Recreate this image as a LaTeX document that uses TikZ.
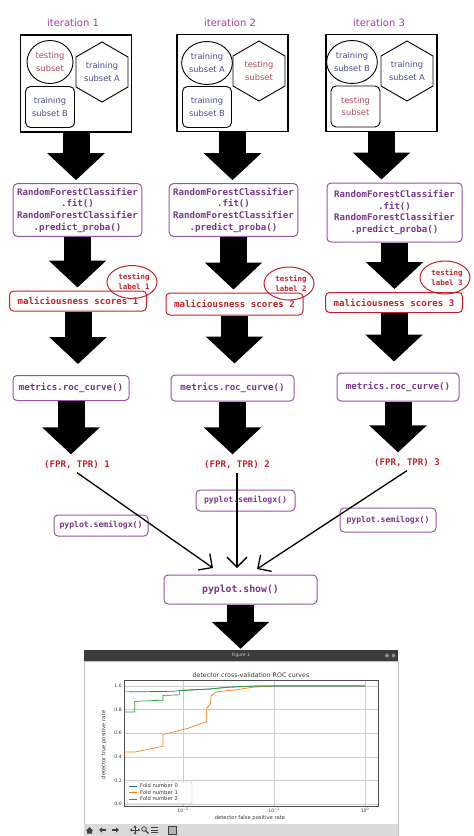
\documentclass[tikz,border=0pt]{standalone}
\usepackage{fontspec}
\setmainfont{DejaVu Sans}
\newfontfamily\codefont{DejaVu Sans Mono}
\usepackage{xcolor}
\usetikzlibrary{arrows.meta,shapes.geometric}
\definecolor{itercolor}{RGB}{160,64,165}
\definecolor{testcolor}{RGB}{180,70,90}
\definecolor{traincolor}{RGB}{75,75,150}
\definecolor{codecolor}{RGB}{120,55,140}
\definecolor{boxcolor}{RGB}{150,85,165}
\definecolor{scorecolor}{RGB}{195,35,40}
\definecolor{barcolor}{RGB}{60,59,55}
\definecolor{gridgray}{RGB}{205,205,205}
\definecolor{foldzero}{HTML}{1F77B4}
\definecolor{foldone}{HTML}{FF7F0E}
\definecolor{foldtwo}{HTML}{2CA02C}

\begin{document}
\begin{tikzpicture}[x=1pt, y=-1pt,
  itertitle/.style={text=itercolor, font=\fontsize{10}{12}\selectfont},
  iterbox/.style={draw, line width=1.4pt, minimum width=111pt, minimum height=97pt, inner sep=0pt},
  subsetcircle/.style={draw, ellipse, line width=0.9pt, minimum width=46pt, minimum height=43pt, inner sep=0pt, align=center, font=\fontsize{8.3}{12.5}\selectfont},
  subsethex/.style={draw, regular polygon, regular polygon sides=6, shape border rotate=30, line width=0.9pt, minimum size=60pt, inner sep=0pt, align=center, font=\fontsize{8.3}{12.5}\selectfont},
  subsetbox/.style={draw, rounded corners=5pt, line width=0.9pt, minimum width=49pt, minimum height=41pt, inner sep=0pt, align=center, font=\fontsize{8.3}{12.5}\selectfont},
  testing/.style={text=testcolor},
  training/.style={text=traincolor},
  codebox/.style={draw=boxcolor, line width=1pt, rounded corners=4pt, fill=white, text=codecolor, align=center, inner xsep=4pt, inner ysep=4pt, font=\codefont\bfseries\fontsize{9.1}{11.7}\selectfont},
  smallcode/.style={font=\codefont\bfseries\fontsize{8.1}{10}\selectfont},
  scorebox/.style={draw=scorecolor, line width=1pt, rounded corners=4pt, text=scorecolor, minimum width=137pt, minimum height=20pt, inner sep=0pt, font=\codefont\bfseries\fontsize{9.1}{11.7}\selectfont},
  labelellipse/.style={draw=scorecolor, ellipse, line width=1pt, text=scorecolor, align=right, minimum width=50pt, minimum height=33pt, inner sep=0pt, font=\codefont\bfseries\fontsize{7.4}{10}\selectfont},
  fprlabel/.style={text=scorecolor, font=\codefont\bfseries\fontsize{9.1}{11.7}\selectfont},
  bigarrow/.style={line width=27pt, -{Triangle[length=27pt,width=56pt]}, shorten >=3pt},
  thinarrow/.style={line width=1.3pt, -{Straight Barb[length=10pt,width=20pt]}},
  ticklabel/.style={text=black!80, inner sep=1pt, font=\fontsize{4.6}{5}\selectfont},
  axislabel/.style={text=black!80, inner sep=0pt, font=\fontsize{5.2}{6}\selectfont}]
  \useasboundingbox[fill=white] (0,0) rectangle (474,836);
  \node[itertitle] (t1) at (73,23) {iteration 1};
  \node[itertitle] (t2) at (230,23) {iteration 2};
  \node[itertitle] (t3) at (379,23) {iteration 3};
  \node[iterbox] (it1) at (76,83.5) {};
  \node[iterbox] (it2) at (232.5,83) {};
  \node[iterbox] (it3) at (381.5,83) {};
  \node[subsetcircle, testing] (c1) at (50,62) {testing\\subset};
  \node[subsethex, training] (h1) at (102,72) {training\\subset A};
  \node[subsetbox, training] (b1) at (50,107) {training\\subset B};
  \node[subsetcircle, training] (c2) at (207,63) {training\\subset A};
  \node[subsethex, testing] (h2) at (259,71) {testing\\subset};
  \node[subsetbox, training] (b2) at (207,107) {training\\subset B};
  \node[subsetcircle, training] (c3) at (352,62) {training\\subset B};
  \node[subsethex, training] (h3) at (407,71) {training\\subset A};
  \node[subsetbox, testing] (b3) at (355.5,106.5) {testing\\subset};
  \node[codebox] (rf1) at (77.5,210) {RandomForestClassifier\\.fit()\\RandomForestClassifier\\.predict\_proba()};
  \node[codebox] (rf2) at (233.5,210) {RandomForestClassifier\\.fit()\\RandomForestClassifier\\.predict\_proba()};
  \node[codebox, minimum width=135pt, minimum height=59pt] (rf3) at (394.5,212.5) {RandomForestClassifier\\.fit()\\RandomForestClassifier\\.predict\_proba()};
  \node[scorebox] (m1) at (78,301) {maliciousness scores 1};
  \node[scorebox, minimum height=22pt] (m2) at (234.5,304) {maliciousness scores 2};
  \node[scorebox] (m3) at (394,302.5) {maliciousness scores 3};
  \node[labelellipse] (l1) at (132,282) {testing\\\hspace*{4pt}label 1};
  \node[labelellipse] (l2) at (289,283.5) {testing\\\hspace*{4pt}label 2};
  \node[labelellipse] (l3) at (445,277.5) {testing\\\hspace*{4pt}label 3};
  \node[codebox, minimum width=116pt, minimum height=25pt] (r1) at (71,388) {metrics.roc\_curve()};
  \node[codebox, minimum width=123pt, minimum height=26pt] (r2) at (232.5,388) {metrics.roc\_curve()};
  \node[codebox, minimum width=122pt, minimum height=28pt] (r3) at (398,387) {metrics.roc\_curve()};
  \node[fprlabel] (f1) at (77,465) {(FPR, TPR) 1};
  \node[fprlabel] (f2) at (237,465) {(FPR, TPR) 2};
  \node[fprlabel] (f3) at (407,463) {(FPR, TPR) 3};
  \node[codebox, smallcode, minimum width=94pt, minimum height=21pt] (s1) at (101,525.5) {pyplot.semilogx()};
  \node[codebox, smallcode, minimum width=99pt, minimum height=21pt] (s2) at (245.5,500.5) {pyplot.semilogx()};
  \node[codebox, smallcode, minimum width=96pt, minimum height=24pt] (s3) at (388,520) {pyplot.semilogx()};
  \node[codebox, minimum width=153pt, minimum height=29pt, font=\codefont\bfseries\fontsize{9.8}{12}\selectfont] (show) at (240.5,589.5) {pyplot.show()};
  \node[fill=barcolor, minimum width=314pt, minimum height=11pt, inner sep=0pt, text=black!20, font=\fontsize{4.5}{5}\selectfont] (bar) at (241,655.5) {Figure 1};
  \coordinate (in1) at (213,568);
  \coordinate (in2) at (237,568);
  \coordinate (in3) at (257,569);
  \draw[bigarrow] (it1.south) -- (it1.south |- rf1.north);
  \draw[bigarrow] (it2.south) -- (it2.south |- rf2.north);
  \draw[bigarrow] (it3.south) -- (it3.south |- rf3.north);
  \draw[bigarrow] (rf1.south) -- (rf1.south |- m1.north);
  \draw[bigarrow] (rf2.south) -- (rf2.south |- m2.north);
  \draw[bigarrow] (rf3.south) -- (rf3.south |- m3.north);
  \draw[bigarrow, shorten >=11pt] (m1.south) -- (m1.south |- r1.north);
  \draw[bigarrow, shorten >=11pt] (m2.south) -- (m2.south |- r2.north);
  \draw[bigarrow, shorten >=11pt] (m3.south) -- (m3.south |- r3.north);
  \draw[bigarrow] (r1.south) -- (r1.south |- f1.north);
  \draw[bigarrow] (r2.south) -- (r2.south |- f2.north);
  \draw[bigarrow] (r3.south) -- (r3.south |- f3.north);
  \draw[thinarrow] (f1.south) -- (in1);
  \draw[thinarrow] (f2.south) -- (in2);
  \draw[thinarrow] (f3.south) -- (in3);
  \draw[bigarrow, shorten >=1pt] (show.south) -- (show.south |- bar.north);
  \fill[black!45] (387,655.5) circle (2pt);
  \fill[black!45] (393.5,655.5) circle (2pt);
  \draw[black!25, fill=white] (84,661) rectangle (398,836);
  \fill[black!15] (84,824) rectangle (398,836);
  \node[text=black!80, font=\fontsize{6.3}{7}\selectfont] (plottitle) at (251,675.5) {detector cross-validation ROC curves};
  \begin{scope}[shift={(365,804)}, x=91pt, y=118pt]
    \draw[gridgray, line width=0.6pt] (-2,-0.017) -- (-2,1.051);
    \draw[gridgray, line width=0.6pt] (-1,-0.017) -- (-1,1.051);
    \draw[gridgray, line width=0.6pt] (0,-0.017) -- (0,1.051);
    \draw[gridgray, line width=0.6pt] (-2.648,0) -- (0.143,0);
    \draw[gridgray, line width=0.6pt] (-2.648,0.2) -- (0.143,0.2);
    \draw[gridgray, line width=0.6pt] (-2.648,0.4) -- (0.143,0.4);
    \draw[gridgray, line width=0.6pt] (-2.648,0.6) -- (0.143,0.6);
    \draw[gridgray, line width=0.6pt] (-2.648,0.8) -- (0.143,0.8);
    \draw[gridgray, line width=0.6pt] (-2.648,1) -- (0.143,1);
    \draw[black!70, line width=0.5pt] (-2.648,-0.017) rectangle (0.143,1.051);
    \node[ticklabel, anchor=east] at (-2.66,1) {1.0};
    \node[ticklabel, anchor=east] at (-2.66,0.8) {0.8};
    \node[ticklabel, anchor=east] at (-2.66,0.6) {0.6};
    \node[ticklabel, anchor=east] at (-2.66,0.4) {0.4};
    \node[ticklabel, anchor=east] at (-2.66,0.2) {0.2};
    \node[ticklabel, anchor=east] at (-2.66,0) {0.0};
    \node[ticklabel, anchor=north] at (-2,-0.025) {10\textsuperscript{−2}};
    \node[ticklabel, anchor=north] at (-1,-0.025) {10\textsuperscript{−1}};
    \node[ticklabel, anchor=north] at (0,-0.025) {10\textsuperscript{0}};
    \node[axislabel] at (-1.264,-0.119) {detector false positive rate};
    \node[axislabel, rotate=90] at (-2.868,0.5) {detector true positive rate};
    \draw[foldone, line width=0.7pt] (-2.648,0.44) -- (-2.53,0.44) -- (-2.22,0.49) -- (-2.22,0.59) -- (-1.95,0.64) -- (-1.74,0.70) -- (-1.74,0.81) -- (-1.70,0.85) -- (-1.69,0.92) -- (-1.63,0.95) -- (-1.4,0.97) -- (-1.23,0.99) -- (-1.0,1.0) -- (0,1.0);
    \draw[foldzero, line width=0.7pt] (-2.648,0.95) -- (-2.1,0.955) -- (-2.0,0.965) -- (-1.7,0.975) -- (-1.5,0.99) -- (-1.2,1.0) -- (0,1.0);
    \draw[foldtwo, line width=0.7pt] (-2.648,0.78) -- (-2.53,0.78) -- (-2.53,0.87) -- (-2.22,0.88) -- (-2.22,0.92) -- (-2.04,0.925) -- (-2.04,0.96) -- (-1.7,0.975) -- (-1.5,0.99) -- (-1.2,1.0) -- (0,1.0);
  \end{scope}
  \draw[black!25, fill=white, rounded corners=1pt] (127,782) rectangle (192,803.5);
  \draw[foldzero, line width=0.7pt] (129,786) -- (137,786);
  \draw[foldone, line width=0.7pt] (129,792.5) -- (137,792.5);
  \draw[foldtwo, line width=0.7pt] (129,799) -- (137,799);
  \node[axislabel, anchor=west] at (140,786) {Fold number 0};
  \node[axislabel, anchor=west] at (140,792.5) {Fold number 1};
  \node[axislabel, anchor=west] at (140,799) {Fold number 2};
  \fill[black!75] (86,830.5) -- (89.5,827) -- (93,830.5) -- (92,830.5) -- (92,833.5) -- (87,833.5) -- (87,830.5) -- cycle;
  \draw[black!75, line width=1.2pt, -{Triangle[length=3pt,width=5pt]}] (106,830) -- (99,830);
  \draw[black!75, line width=1.2pt, -{Triangle[length=3pt,width=5pt]}] (112,830) -- (119,830);
  \draw[black!75, line width=0.8pt, {Triangle[length=2pt,width=3pt]}-{Triangle[length=2pt,width=3pt]}] (130,830) -- (140,830);
  \draw[black!75, line width=0.8pt, {Triangle[length=2pt,width=3pt]}-{Triangle[length=2pt,width=3pt]}] (135,825.5) -- (135,834.5);
  \draw[black!75, line width=0.8pt] (144,829) circle (2.3pt);
  \draw[black!75, line width=1.2pt] (145.7,830.7) -- (148.5,833.5);
  \draw[black!75, line width=0.6pt] (151,827.5) -- (158,827.5);
  \draw[black!75, line width=0.6pt] (151,830) -- (158,830);
  \draw[black!75, line width=0.6pt] (151,832.5) -- (158,832.5);
  \draw[black!75, fill=black!30, line width=0.6pt] (168,826) rectangle (176,834);
\end{tikzpicture}
\end{document}
